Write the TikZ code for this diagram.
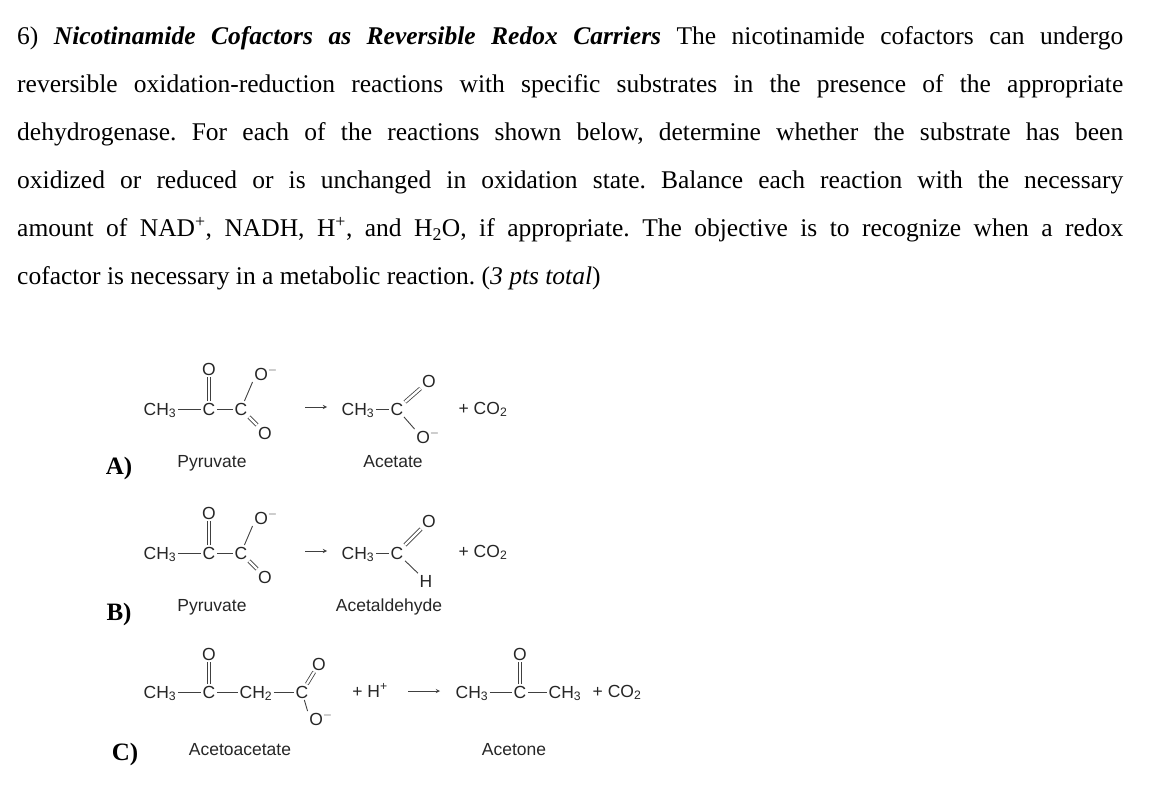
\documentclass[tikz,border=0pt]{standalone}
\usepackage{fontspec}
\setmainfont{Liberation Serif}
\newfontfamily\chemf{Liberation Sans}
\frenchspacing
\begin{document}
\begin{tikzpicture}[x=1pt,y=-1pt,
  tline/.style={anchor=base west,inner sep=0pt,font=\fontsize{25.5}{27}\selectfont},
  atom/.style={inner sep=1.5pt,text height=12.5pt,text depth=0pt,font=\chemf\fontsize{17.5}{18}\selectfont,text=black!85},
  lbl/.style={inner sep=0pt,anchor=base,font=\chemf\fontsize{17.5}{18}\selectfont,text=black!85},
  part/.style={inner sep=0pt,anchor=base,font=\fontsize{25}{25}\selectfont\bfseries},
  bd/.style={line width=0.9pt,black!75},
  bdd/.style={double=white,double distance=2.4pt,line width=0.8pt,draw=black!75},
  rx/.style={line width=0.9pt,black!75,-stealth}]
\useasboundingbox (0,0) rectangle (1160,802);
% text
\node[tline] (l1) at (17,45) {\hbox to 1106pt{6) \textbf{\textit{Nicotinamide Cofactors as Reversible Redox Carriers}} The nicotinamide cofactors can undergo}};
\node[tline] (l2) at (17,93) {\hbox to 1106pt{reversible oxidation-reduction reactions with specific substrates in the presence of the appropriate}};
\node[tline] (l3) at (17,141) {\hbox to 1106pt{dehydrogenase. For each of the reactions shown below, determine whether the substrate has been}};
\node[tline] (l4) at (17,189) {\hbox to 1106pt{oxidized or reduced or is unchanged in oxidation state. Balance each reaction with the necessary}};
\node[tline] (l5) at (17,237) {\hbox to 1106pt{amount of NAD\textsuperscript{+}, NADH, H\textsuperscript{+}, and H\textsubscript{2}O, if appropriate. The objective is to recognize when a redox}};
\node[tline] (l6) at (17,285) {cofactor is necessary in a metabolic reaction. (\textit{3 pts total})};
% labels
\node[part] (pa) at (119,474) {A)};
\node[part] (pb) at (119,620) {B)};
\node[part] (pc) at (125,760) {C)};
% ---------- A ----------
\node[atom] (a1) at (160,409) {CH\textsubscript{3}};
\node[atom] (a2) at (209,409) {C};
\node[atom] (a3) at (241,409) {C};
\node[atom] (ao1) at (209,369) {O};
\node[atom] (ao2) at (266,374) {O\textsuperscript{$-$}};
\node[atom] (ao3) at (265,433) {O};
\draw[bd] (a1) -- (a2); \draw[bd] (a2) -- (a3);
\draw[bdd] (a2) -- (ao1);
\draw[bd] (a3) -- (ao2.south west);
\draw[bdd] (a3) -- (ao3);
\node[lbl] (an1) at (212,467) {Pyruvate};
\coordinate (ar1) at (305,407); \coordinate (ar2) at (327,407);
\draw[rx] (ar1) -- (ar2);
\node[atom] (b1) at (358,409) {CH\textsubscript{3}};
\node[atom] (b2) at (397,409) {C};
\node[atom] (bo1) at (429,381) {O};
\node[atom] (bo2) at (428,437) {O\textsuperscript{$-$}};
\draw[bd] (b1) -- (b2);
\draw[bdd] (b2) -- (bo1);
\draw[bd] (b2) -- (bo2.north west);
\node[atom] (bco) at (483,408) {+ CO\textsubscript{2}};
\node[lbl] (an2) at (393,467) {Acetate};
% ---------- B ----------
\node[atom] (c1) at (160,553) {CH\textsubscript{3}};
\node[atom] (c2) at (209,553) {C};
\node[atom] (c3) at (241,553) {C};
\node[atom] (co1) at (209,513) {O};
\node[atom] (co2) at (266,518) {O\textsuperscript{$-$}};
\node[atom] (co3) at (265,577) {O};
\draw[bd] (c1) -- (c2); \draw[bd] (c2) -- (c3);
\draw[bdd] (c2) -- (co1);
\draw[bd] (c3) -- (co2.south west);
\draw[bdd] (c3) -- (co3);
\node[lbl] (bn1) at (212,611) {Pyruvate};
\coordinate (br1) at (305,551); \coordinate (br2) at (327,551);
\draw[rx] (br1) -- (br2);
\node[atom] (d1) at (358,553) {CH\textsubscript{3}};
\node[atom] (d2) at (397,553) {C};
\node[atom] (do1) at (429,521) {O};
\node[atom] (dh) at (426,581) {H};
\draw[bd] (d1) -- (d2);
\draw[bdd] (d2) -- (do1);
\draw[bd] (d2) -- (dh);
\node[atom] (dco) at (483,551) {+ CO\textsubscript{2}};
\node[lbl] (bn2) at (389,611) {Acetaldehyde};
% ---------- C ----------
\node[atom] (e1) at (160,692) {CH\textsubscript{3}};
\node[atom] (e2) at (209,692) {C};
\node[atom] (e3) at (256,692) {CH\textsubscript{2}};
\node[atom] (e4) at (302,692) {C};
\node[atom] (eo1) at (209,654) {O};
\node[atom] (eo2) at (319,664) {O};
\node[atom] (eo3) at (321,719) {O\textsuperscript{$-$}};
\draw[bd] (e1) -- (e2); \draw[bd] (e2) -- (e3); \draw[bd] (e3) -- (e4);
\draw[bdd] (e2) -- (eo1);
\draw[bdd] (e4) -- (eo2);
\draw[bd] (e4) -- (eo3.north west);
\node[atom] (eh) at (370,691) {+ H\textsuperscript{+}};
\node[lbl] (cn1) at (240,755) {Acetoacetate};
\coordinate (cr1) at (408,691); \coordinate (cr2) at (440,691);
\draw[rx] (cr1) -- (cr2);
\node[atom] (f1) at (472,692) {CH\textsubscript{3}};
\node[atom] (f2) at (520,692) {C};
\node[atom] (f3) at (565,692) {CH\textsubscript{3}};
\node[atom] (fo) at (520,654) {O};
\draw[bd] (f1) -- (f2); \draw[bd] (f2) -- (f3);
\draw[bdd] (f2) -- (fo);
\node[atom] (fco) at (617,691) {+ CO\textsubscript{2}};
\node[lbl] (cn2) at (514,755) {Acetone};
\end{tikzpicture}
\end{document}
